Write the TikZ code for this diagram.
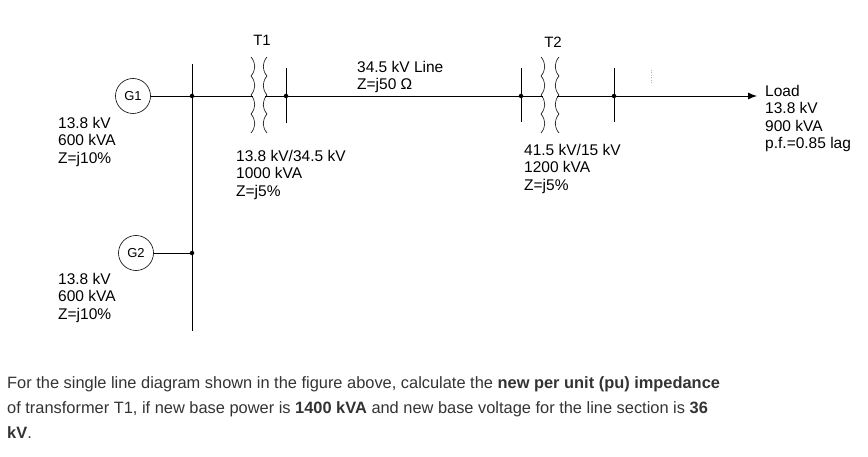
\documentclass[tikz,border=0pt]{standalone}
\usepackage{fontspec}
\setmainfont{Liberation Sans}
\usetikzlibrary{arrows.meta}
\begin{document}
\begin{tikzpicture}[x=1pt,y=-1pt,
  lbl/.style={anchor=west,inner sep=0,font=\fontsize{15.5pt}{17.5pt}\selectfont,align=left},
  wire/.style={line width=0.9pt},
  bus/.style={line width=0.9pt},
  dotn/.style={circle,fill=black,inner sep=0,minimum size=4.5pt},
  gen/.style={circle,draw,line width=0.6pt,minimum size=35pt,inner sep=0,font=\fontsize{13pt}{14pt}\selectfont},
  coil/.style={line width=0.6pt}]
\useasboundingbox (0,0) rectangle (868,457);
\node[gen] (g1) at (133,96) {G1};
\node[gen] (g2) at (136,253) {G2};
\coordinate (b1t) at (192,64); \coordinate (b1b) at (192,331);
\draw[bus] (b1t) -- (b1b);
\node[dotn] (d1) at (192,96) {};
\node[dotn] (d2) at (192,253) {};
\coordinate (t1a) at (253,96); \coordinate (t1b) at (265,96);
\coordinate (t2a) at (543,96); \coordinate (t2b) at (557,96);
\draw[bus] (286,68) -- (286,123);
\draw[bus] (521,68) -- (521,122);
\draw[bus] (614,68) -- (614,122);
\node[dotn] (d3) at (286,96) {};
\node[dotn] (d4) at (521,96) {};
\node[dotn] (d5) at (614,96) {};
\coordinate (load) at (757,96);
\draw[wire] (g1) -- (t1a);
\draw[wire] (g2) -- (d2);
\draw[wire] (t1b) -- (t2a);
\draw[wire,-{Latex[length=9pt,width=7pt]}] (t2b) -- (load);
\foreach \x/\s in {253/1,265/-1,543/1,557/-1}{
  \foreach \k in {0,1,2,3}{
    \draw[coil] (\x-\s*2,57+19*\k) .. controls (\x+\s*3,63+19*\k) and (\x+\s*3,70+19*\k) .. (\x-\s*2,76+19*\k);
  }
}
\draw[gray!60,dotted] (651,70) -- (651,83);
\node[font=\fontsize{15pt}{14pt}\selectfont] (lt1) at (262,40) {T1};
\node[font=\fontsize{15pt}{14pt}\selectfont] (lt2) at (553,42) {T2};
\node[lbl,anchor=north west] (ln) at (357,61) {34.5 kV Line\\Z=j50 Ω};
\node[lbl,anchor=north west] (ll) at (765,85) {Load\\13.8 kV\\900 kVA\\p.f.=0.85 lag};
\node[lbl,anchor=north west] (lg1) at (58,117) {13.8 kV\\600 kVA\\Z=j10\%};
\node[lbl,anchor=north west] (lg2) at (58,273) {13.8 kV\\600 kVA\\Z=j10\%};
\node[lbl,anchor=north west] (lx1) at (236,150) {13.8 kV/34.5 kV\\1000 kVA\\Z=j5\%};
\node[lbl,anchor=north west] (lx2) at (524,144) {41.5 kV/15 kV\\1200 kVA\\Z=j5\%};
\node[anchor=north west,inner sep=0,align=left,text=black!80,font=\fontsize{16.4pt}{25pt}\selectfont] (q) at (7,376)
 {For the single line diagram shown in the figure above, calculate the \textbf{new per unit (pu) impedance}\\
 of transformer T1, if new base power is \textbf{1400 kVA} and new base voltage for the line section is \textbf{36}\\
 \textbf{kV}.};
\end{tikzpicture}
\end{document}
